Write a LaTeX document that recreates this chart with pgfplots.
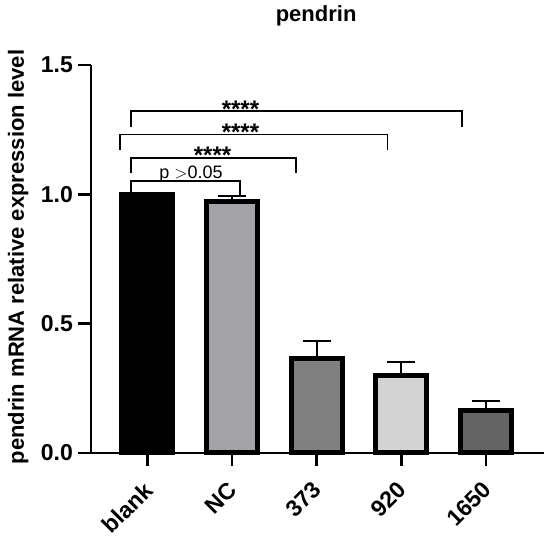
\documentclass[border=0pt]{standalone}
\usepackage{fontspec}
\setmainfont{Liberation Sans}
\usepackage{pgfplots}
\pgfplotsset{compat=1.18}
\definecolor{ncgray}{RGB}{163,163,167}
\definecolor{gthree}{RGB}{128,128,128}
\definecolor{gnine}{RGB}{211,211,211}
\definecolor{gsix}{RGB}{100,100,100}
\newcommand{\bigf}{\fontsize{23}{27}\selectfont\bfseries}
\begin{document}
\begin{tikzpicture}
\path[use as bounding box] (0,0) rectangle (550pt,541pt);
\begin{axis}[
  at={(91pt,88pt)}, anchor=south west,
  scale only axis, width=453pt, height=388pt,
  xmin=-0.665, xmax=4.685, ymin=0, ymax=1.5,
  axis x line=bottom, axis y line=left,
  axis line style={-, line width=2.5pt},
  xtick={0,1,2,3,4}, xticklabels={blank,NC,373,920,1650},
  ytick={0,0.5,1,1.5}, yticklabels={0.0,0.5,1.0,1.5},
  minor tick num=0,
  tick align=outside, major tick length=13pt,
  tick style={line width=2.5pt, black},
  ticklabel style={font=\bigf},
  yticklabel style={inner sep=0pt, xshift=-5pt},
  xticklabel style={xshift=-5pt, yshift=-14pt, rotate=45, anchor=north east, inner sep=0pt},
  title={pendrin},
  title style={font=\fontsize{22}{26}\selectfont\bfseries, at={(axis description cs:0.497,1)}, anchor=center, yshift=43pt},
  ylabel={pendrin mRNA relative expression level},
  ylabel style={font=\fontsize{22}{26}\selectfont\bfseries, at={(axis description cs:-0.161,0.505)}, anchor=center},
  clip=false,
]
\addplot[ybar, bar width=50.7pt, bar shift=0pt, fill=black, draw=black, line width=5pt]
  coordinates {(0,1.0)};
\addplot[ybar, bar width=50.7pt, bar shift=0pt, fill=ncgray, draw=black, line width=5pt,
  error bars/.cd, y dir=plus, y explicit,
  error bar style={line width=2pt},
  error mark options={rotate=90, line width=2pt, mark size=14pt}]
  coordinates {(1,0.974) +- (0,0.019)};
\addplot[ybar, bar width=50.7pt, bar shift=0pt, fill=gthree, draw=black, line width=5pt,
  error bars/.cd, y dir=plus, y explicit,
  error bar style={line width=2pt},
  error mark options={rotate=90, line width=2pt, mark size=14pt}]
  coordinates {(2,0.364) +- (0,0.069)};
\addplot[ybar, bar width=50.7pt, bar shift=0pt, fill=gnine, draw=black, line width=5pt,
  error bars/.cd, y dir=plus, y explicit,
  error bar style={line width=2pt},
  error mark options={rotate=90, line width=2pt, mark size=14pt}]
  coordinates {(3,0.298) +- (0,0.055)};
\addplot[ybar, bar width=50.7pt, bar shift=0pt, fill=gsix, draw=black, line width=5pt,
  error bars/.cd, y dir=plus, y explicit,
  error bar style={line width=2pt},
  error mark options={rotate=90, line width=2pt, mark size=14pt}]
  coordinates {(4,0.164) +- (0,0.037)};
% significance brackets
\addplot[black, line width=1.6pt, mark=none] coordinates {(-0.196,0.997) (-0.196,1.051) (1.098,1.051) (1.098,0.99)};
\addplot[black, line width=1.6pt, mark=none] coordinates {(-0.196,1.081) (-0.196,1.141) (1.759,1.141) (1.759,1.081)};
\addplot[black, line width=1.6pt, mark=none] coordinates {(-0.319,1.171) (-0.319,1.232) (2.838,1.232) (2.838,1.171)};
\addplot[black, line width=1.6pt, mark=none] coordinates {(-0.196,1.260) (-0.196,1.321) (3.716,1.321) (3.716,1.260)};
\node[font=\fontsize{18}{21}\selectfont, anchor=base, inner sep=0pt, yshift=3pt] at (axis cs:0.516,1.051) {p $>$0.05};
\node[font=\fontsize{24}{27}\selectfont\bfseries, anchor=south, inner sep=0pt, yshift=-6pt] at (axis cs:0.771,1.141) {****};
\node[font=\fontsize{24}{27}\selectfont\bfseries, anchor=south, inner sep=0pt, yshift=-6pt] at (axis cs:1.10,1.232) {****};
\node[font=\fontsize{24}{27}\selectfont\bfseries, anchor=south, inner sep=0pt, yshift=-6pt] at (axis cs:1.10,1.321) {****};
\end{axis}
\end{tikzpicture}
\end{document}
